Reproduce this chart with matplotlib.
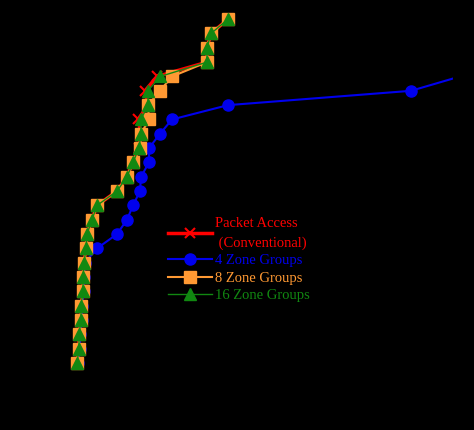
import matplotlib
matplotlib.use("Agg")
import matplotlib.pyplot as plt

plt.rcParams['font.family'] = ['Liberation Serif', 'DejaVu Serif']

# Injection rate levels (y) and latency values (x)
rate = [0.01 * k for k in range(1, 26)]

packet_lat = [17, 19, 19, 21, 21, 23, 23, 24, 26, 27, 32, 37, 57, 67, 73, 79, 81, 78, 88, 85, 97, 147, 147, 151, 168]
zone8_lat = [17, 19, 19, 21, 21, 23, 23, 24, 26, 27, 32, 37, 57, 67, 73, 80, 81, 89, 88, 100, 112, 147, 147, 151, 168]
zone16_lat = [17, 19, 19, 21, 21, 23, 23, 24, 26, 27, 32, 37, 57, 67, 73, 79, 81, 81, 88, 88, 100, 147, 147, 151, 168]

rate4 = [0.01 * k for k in range(1, 22)]
zone4_lat = [18, 20, 20, 22, 22, 24, 24, 25, 37, 57, 67, 73, 80, 81, 89, 89, 100, 112, 168, 351, 400]

labels = ["Packet Access\n (Conventional)", "4 Zone Groups", "8 Zone Groups", "16 Zone Groups"]
colors = ["#FF0000", "#0000EE", "#FF9933", "#118811"]

fig = plt.figure(figsize=(4.74, 4.30), dpi=100, facecolor="black")
ax = fig.add_axes([60 / 474, 30 / 430, 393 / 474, 390 / 430])
ax.set_facecolor("black")

ax.plot(packet_lat, rate, color=colors[0], lw=2.5, marker="x", ms=7, mew=1.5, label=labels[0])
ax.plot(zone4_lat, rate4, color=colors[1], lw=1.5, marker="o", ms=8, label=labels[1])
ax.plot(zone8_lat, rate, color=colors[2], lw=1.5, marker="s", ms=9, label=labels[2])
ax.plot(zone16_lat, rate, color=colors[3], lw=1, marker="^", ms=8, label=labels[3])

ax.set_xlim(0, 393)
ax.set_ylim(-0.0158, 0.2564)
# axes, ticks and labels are black on black in the original
for s in ax.spines.values():
    s.set_color("black")
ax.tick_params(colors="black", labelsize=8, length=3, pad=2)
ax.set_xlabel("Latency (cycles)", color="black", fontsize=8, labelpad=1)
ax.set_ylabel("Injection Rate", color="black", fontsize=8)

leg = ax.legend(loc="upper left", bbox_to_anchor=(168 / 474, 1 - 217 / 430), bbox_transform=fig.transFigure,
                frameon=False, fontsize=10.5, handlelength=3.0, handletextpad=0.2, labelspacing=0.3,
                borderpad=0, borderaxespad=0)
for txt, c in zip(leg.get_texts(), colors):
    txt.set_color(c)
    txt.set_linespacing(1.6)

fig.savefig("out.png", dpi=100, facecolor="black")
